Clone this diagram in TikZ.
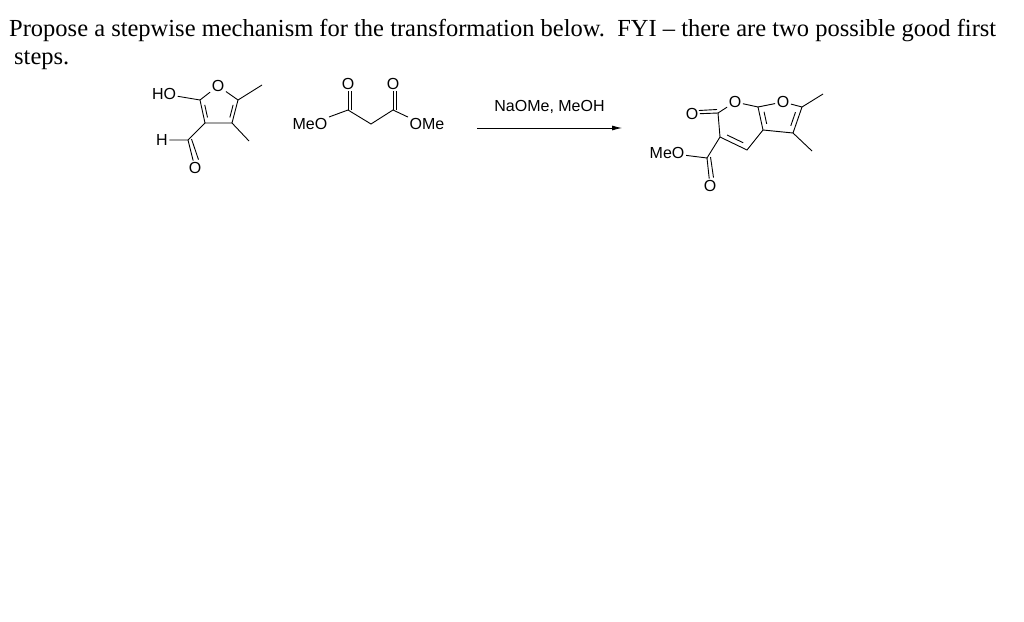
\documentclass[tikz,border=0pt]{standalone}
\usepackage{fontspec}
\setmainfont{Liberation Serif}
\newfontfamily\chemf{Liberation Sans}
\usetikzlibrary{calc,arrows.meta}
\begin{document}
\begin{tikzpicture}[x=1pt,y=-1pt,
  atom/.style={font=\chemf\fontsize{16}{16}\selectfont,inner sep=1.5pt},
  bd/.style={line width=0.9pt},
  txt/.style={font=\fontsize{24.5}{28}\selectfont,anchor=base west,inner sep=0}]
\useasboundingbox[fill=white] (0,0) rectangle (1024,621);
\node[txt] (t1) at (9,36) {Propose a stepwise mechanism for the transformation below.\ \ FYI -- there are two possible good first};
\node[txt] (t2) at (14,64) {steps.};
% furan aldehyde
\node[atom] (O1) at (218,86) {O};
\node[atom] (HO) at (164,94) {HO};
\coordinate (a2) at (200,100); \coordinate (a3) at (205,123);
\coordinate (a4) at (232,123); \coordinate (a5) at (238,100);
\coordinate (m1) at (262,85); \coordinate (m2) at (249,141);
\coordinate (ac) at (188,140);
\node[atom] (H) at (162,140) {H};
\node[atom] (Oa) at (195,168) {O};
\coordinate (fc) at (219,110);
\draw[bd] (O1)--(a2)--(a3)--(a4)--(a5)--(O1);
\draw[bd] (a5)--(m1) (a4)--(m2) (a2)--(HO) (a3)--(ac)--(H);
\draw[bd] ($(a2)!0.15!(a3)!0.22!(fc)$)--($(a3)!0.15!(a2)!0.22!(fc)$);
\draw[bd] ($(a4)!0.15!(a5)!0.22!(fc)$)--($(a5)!0.15!(a4)!0.22!(fc)$);
\draw[bd] (ac)--(Oa);
\draw[bd] ($(ac)+(3.5,-1)$)--($(Oa.north)+(3.5,-1)$);
% malonate
\node[atom] (MeO) at (310,124) {MeO};
\coordinate (c1) at (348,110); \coordinate (ch) at (371,124); \coordinate (c2) at (393,110);
\node[atom] (Om1) at (348,84) {O};
\node[atom] (Om2) at (393,84) {O};
\node[atom] (OMe) at (427,124) {OMe};
\draw[bd] (MeO)--(c1)--(ch)--(c2)--(OMe.160);
\draw[bd] (c1)--(Om1) ($(c1)+(3,0)$)--($(Om1.south)+(3,0)$);
\draw[bd] (c2)--(Om2) ($(c2)+(3,0)$)--($(Om2.south)+(3,0)$);
% arrow
\coordinate (ar1) at (477,128); \coordinate (ar2) at (622,128);
\draw[line width=0.8pt,-{Latex[length=10pt,width=5pt]}] (ar1)--(ar2) node[midway,above=11pt,font=\chemf\fontsize{16}{16}\selectfont] (rc) {NaOMe, MeOH};
% product
\node[atom] (Op) at (735,102) {O};
\node[atom] (Of) at (783,102) {O};
\node[atom] (Ox) at (692,114) {O};
\coordinate (p2) at (718,113); \coordinate (p3) at (720,137); \coordinate (p4) at (747,150);
\coordinate (p4a) at (763,130); \coordinate (p7a) at (758,107);
\coordinate (f2) at (802,107); \coordinate (f3) at (793,133);
\coordinate (pm1) at (823,94); \coordinate (pm2) at (812,151);
\coordinate (ec) at (707,158);
\node[atom] (MeO2) at (667,153) {MeO};
\node[atom] (Oe) at (710,186) {O};
\coordinate (pc) at (740,125); \coordinate (fc2) at (780,116);
\draw[bd] (Op)--(p2)--(p3)--(p4)--(p4a)--(p7a)--(Op);
\draw[bd] (p7a)--(Of)--(f2)--(f3)--(p4a);
\draw[bd] (f2)--(pm1) (f3)--(pm2);
\draw[bd] (p2)--(Ox) ($(p2)+(-1,-3.5)$)--($(Ox.east)+(-1,-3.5)$);
\draw[bd] ($(p3)!0.1!(p4)!0.25!(pc)$)--($(p4)!0.1!(p3)!0.25!(pc)$);
\draw[bd] ($(p4a)!0.15!(p7a)!0.25!(fc2)$)--($(p7a)!0.15!(p4a)!0.25!(fc2)$);
\draw[bd] ($(f2)!0.15!(f3)!0.25!(fc2)$)--($(f3)!0.15!(f2)!0.25!(fc2)$);
\draw[bd] (p3)--(ec)--(MeO2) (ec)--(Oe) ($(ec)+(3.5,-1)$)--($(Oe.north)+(3.5,-1)$);
\end{tikzpicture}
\end{document}
